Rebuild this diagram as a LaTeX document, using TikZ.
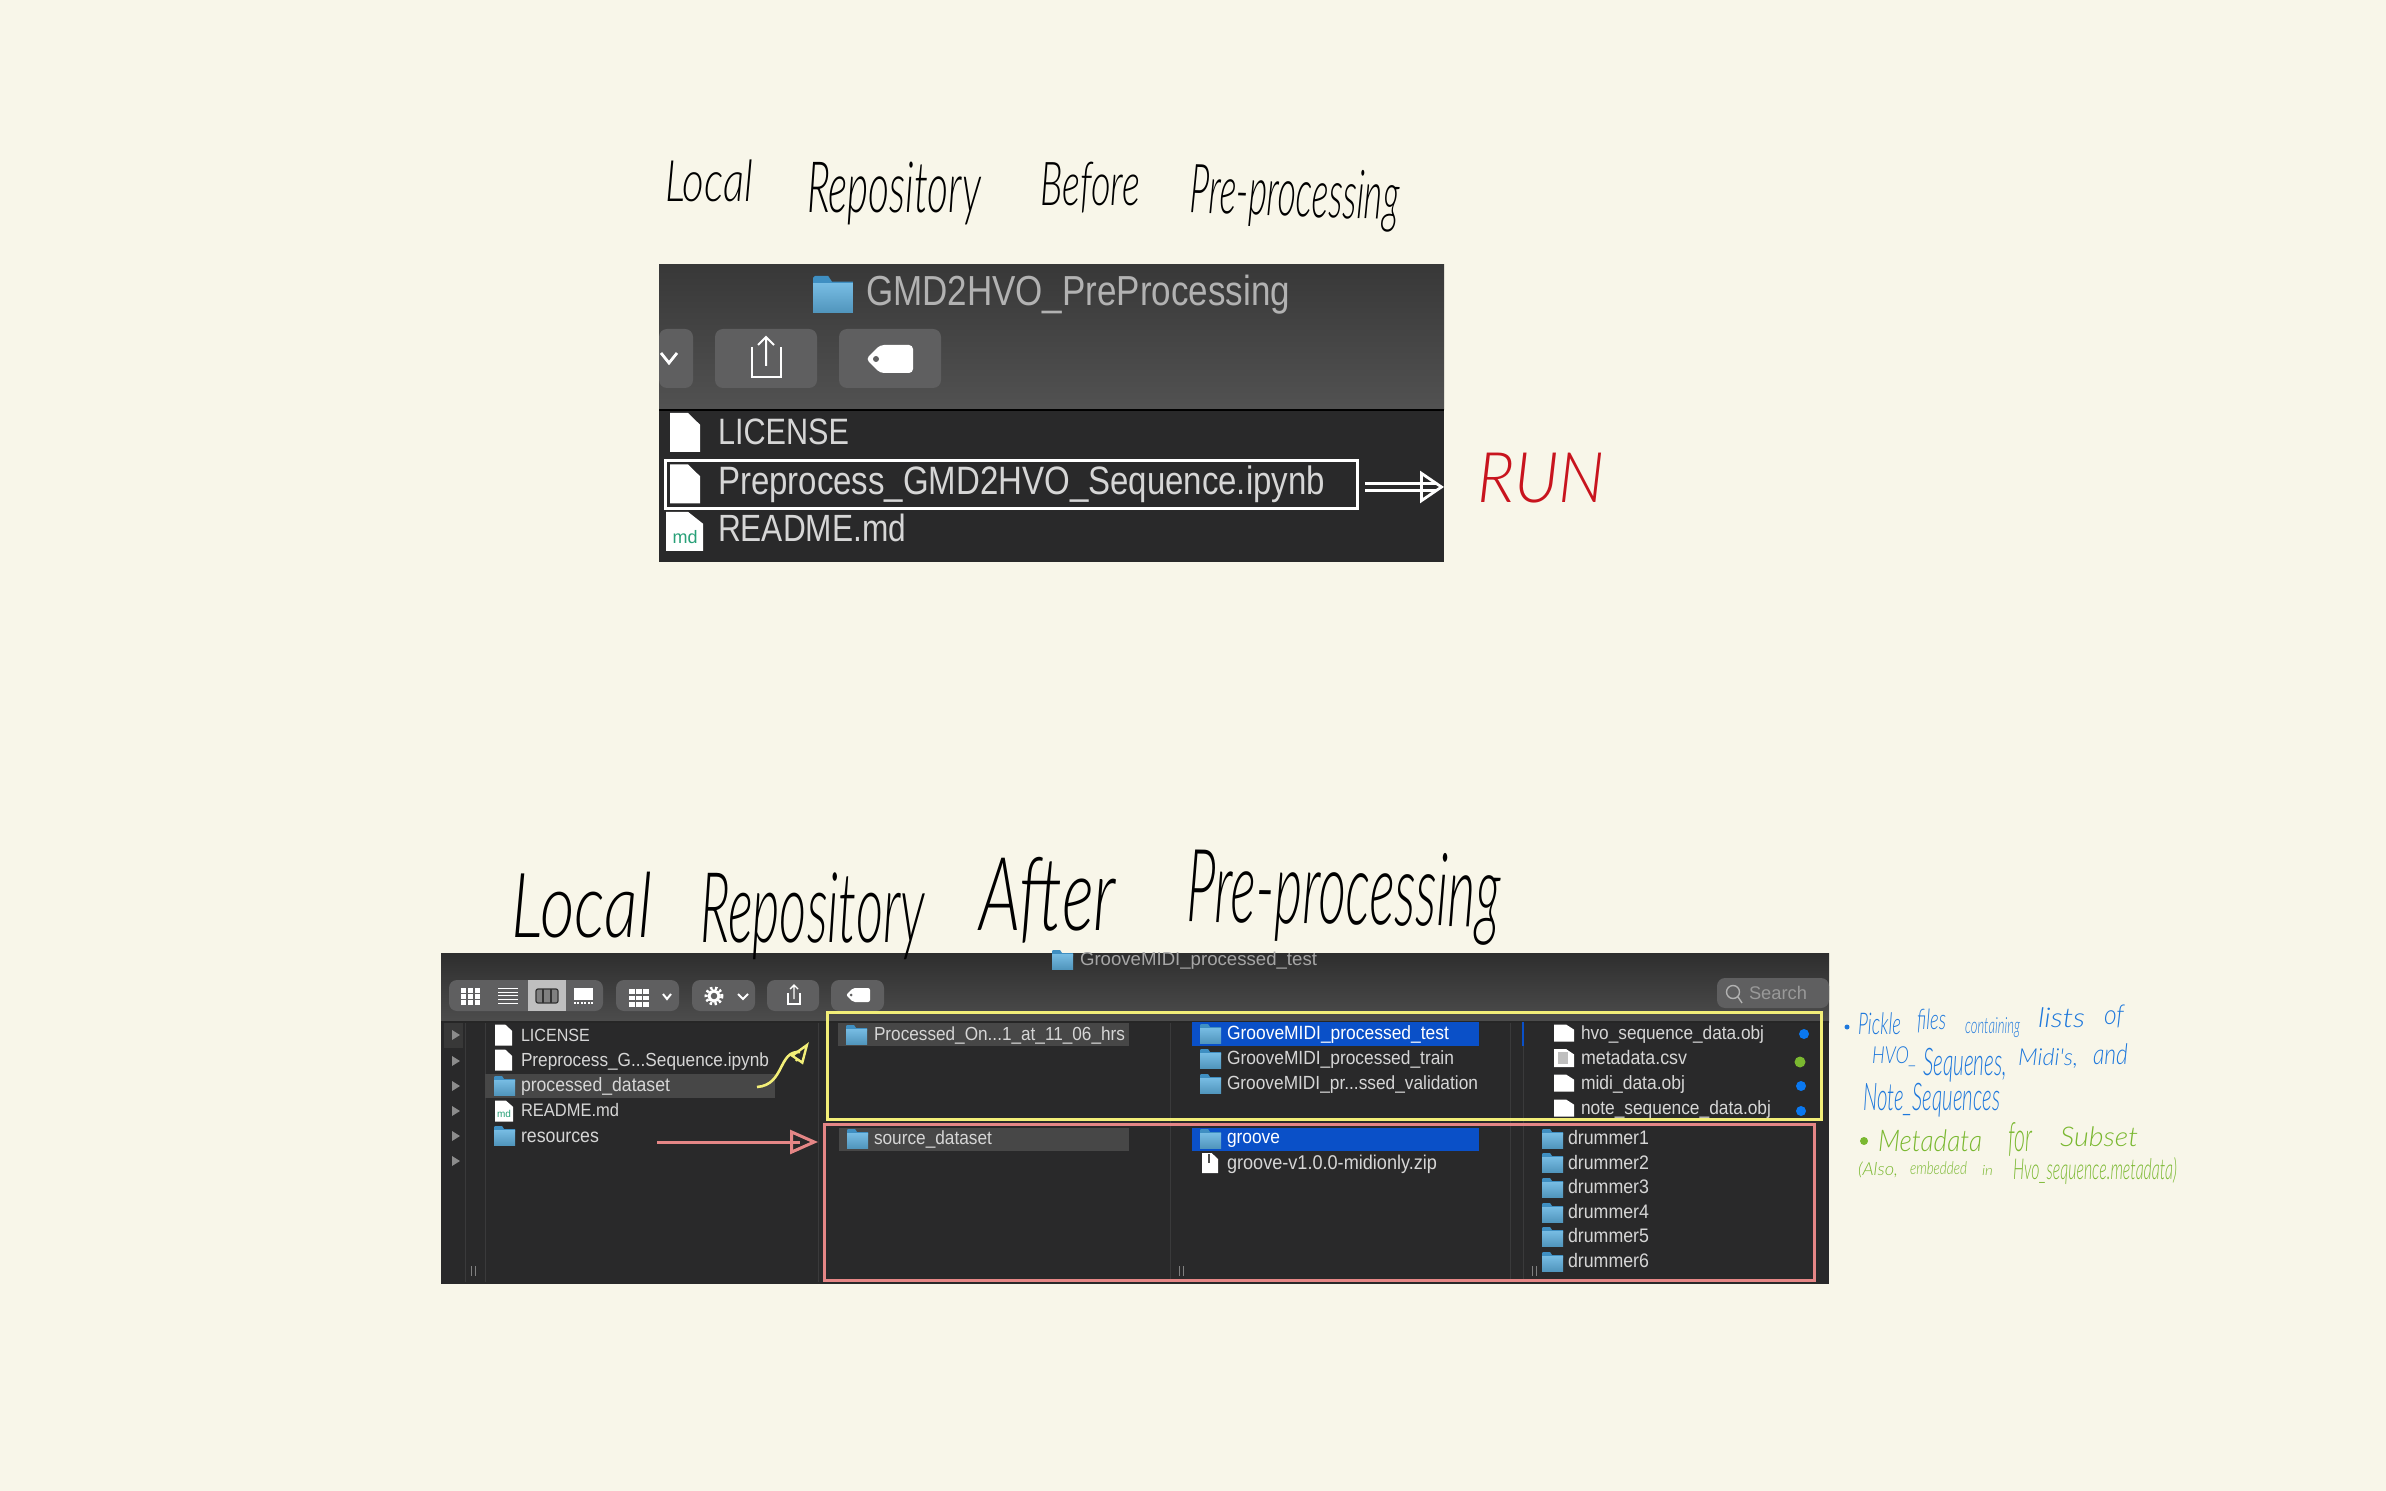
\documentclass[tikz,border=0pt]{standalone}
\usepackage{fontspec}
\usepackage{graphicx}
\usetikzlibrary{arrows.meta}
\setmainfont{Liberation Sans}
\newfontfamily\hand{Lato Light Italic}
\definecolor{bg}{HTML}{F8F6E9}
\definecolor{winbody}{HTML}{29292A}
\definecolor{sep}{HTML}{3A3A3B}
\definecolor{hl}{HTML}{474747}
\definecolor{sel}{HTML}{0A50C8}
\definecolor{txt}{HTML}{D6D6D6}
\definecolor{ybox}{HTML}{F2EE78}
\definecolor{pbox}{HTML}{E58686}
\definecolor{fold}{HTML}{5FB0DE}
\definecolor{foldd}{HTML}{3F8FC2}
\definecolor{btn}{HTML}{5F5F60}
\definecolor{runred}{HTML}{C8141E}
\definecolor{noteblue}{HTML}{1E78DC}
\definecolor{notegreen}{HTML}{7AB830}
\definecolor{dotblue}{HTML}{0A78F0}
\tikzset{
  ftext/.style={anchor=base west,inner sep=0pt,outer sep=0pt,text=txt},
  hwtext/.style={anchor=center,inner sep=0pt,outer sep=0pt},
  btnbox/.style={fill=btn,rounded corners=4pt},
  ink/.style={white,line width=1pt},
  selbox/.style={line width=1.5pt,draw=white},
}
% finder text: name, left x, centre y, width in px, text
\newcommand\ft[5]{\node[ftext] (#1) at (#2,{#3+6}) {\scalebox{1}[1.1]{\resizebox{\dimexpr#4pt/2\relax}{!}{#5}}};}
\newcommand\fb[5]{\node[ftext] (#1) at (#2,{#3+12}) {\scalebox{1}[1.2]{\resizebox{\dimexpr#4pt/2\relax}{!}{#5}}};}
% hand text fitted to a box: [options] name x1 y1 x2 y2 text
\newcommand\hw[7][]{\node[hwtext,#1] (#2) at ({(#3+#5)/2},{(#4+#6)/2}) {\hand\resizebox*{\dimexpr(#5pt-#3pt)/2\relax}{\dimexpr(#6pt-#4pt)/2\relax}{#7}};}
\newcommand\folder[3][1]{\begin{scope}[shift={(#2,#3)},scale=#1]
  \fill[foldd] (0,-6) -- (0,-9) -- (1,-10) -- (8,-10) -- (10,-7) -- (21,-7) -- (21,-4) -- (0,-4) -- cycle;
  \fill[top color=fold!85!white,bottom color=fold!85!black] (0,-6) rectangle (21,9);
\end{scope}}
\newcommand\filei[4]{\begin{scope}[shift={(#1,#2)},xscale=#3,yscale=#4]
  \fill[white] (0,-.5) -- (.6,-.5) -- (1,-.2) -- (1,.5) -- (0,.5) -- cycle;
\end{scope}}
\begin{document}
\begin{tikzpicture}[x=0.5pt,y=-0.5pt]
\fill[bg] (0,0) rectangle (2386,1491);
\useasboundingbox (0,0) rectangle (2386,1491);

%%% TOP WINDOW
\fill[winbody] (659,265) rectangle (1444,562);
\fill[top color=black!78,bottom color=black!68] (659,265) rectangle (1444,410);
\fill[black] (659,409) rectangle (1444,411);
\folder[1.9]{813}{295}
\node[ftext,text=black!30] (toptitle) at (866,306) {\scalebox{1}[1.2]{\resizebox{212pt}{!}{GMD2HVO\_PreProcessing}}};
\fill[btnbox] (659,329) -- (693,329) -- (693,388) -- (659,388) -- cycle;
\draw[ink,line width=1.4pt] (661,353) -- (669,363) -- (677,353);
\fill[btnbox] (715,329) rectangle (817,388);
\draw[ink] (752,347) -- (752,377) -- (781,377) -- (781,347) ;
\fill[btn] (758,340) rectangle (775,352);
\draw[ink] (766,366) -- (766,338) (758,345) -- (766,337) -- (774,345);
\fill[btnbox] (839,329) rectangle (941,388);
\fill[white,rounded corners=2pt] (866,359) -- (880,345) -- (913,345) -- (913,373) -- (880,373) -- cycle;
\fill[btn] (876,359) circle (3);
\filei{670}{432.5}{30}{39}
\fb{toplicense}{718}{433}{131}{LICENSE}
\filei{670}{484}{30}{39}
\fb{topprep}{718}{483}{607}{Preprocess\_GMD2HVO\_Sequence.ipynb}
\filei{666}{531.5}{37}{39}
\node[inner sep=0pt,text={rgb,255:red,40;green,160;blue,120},font=\fontsize{9}{9}\rmfamily] (topmd) at (685,537) {md};
\fb{topreadme}{718}{530}{188}{README.md}
\node[selbox,draw,inner sep=0pt,minimum width=346pt,minimum height=24pt] (topsel) at (1011,485) {};
\coordinate (runa) at (1365,487);
\coordinate (runb) at (1436,487);
\coordinate (runc) at (1420,487);
\coordinate (rund) at (1444,487);
\draw[white,line width=1.4pt,double=winbody,double distance=2pt] (runa) -- (runb);
\draw[white,line width=1.4pt,-{Triangle[open,length=12pt,width=16pt]}] (runc) -- (rund);
\hw[text=runred]{run}{1477}{453}{1605}{503}{RUN}

%%% BOTTOM WINDOW
\fill[winbody] (441,953) rectangle (1829,1284);
\fill[top color=black!82,bottom color=black!70] (441,953) rectangle (1829,1022);
\fill[black!85] (441,1021) rectangle (1829,1023);
\folder{1052}{960}
\node[ftext,text=black!35] (bottitle) at (1080,965) {\resizebox{118.5pt}{!}{GrooveMIDI\_processed\_test}};
% toolbar
\fill[btnbox] (449,980) rectangle (603,1011);
\fill[black!25] (528,980) rectangle (566,1011);
\foreach \a in {0,1,2} \foreach \b in {0,1,2} \fill[white] ({461+\a*7},{988+\b*6}) rectangle +(5,5);
\foreach \b in {0,1,2,3,4} \fill[white] (498,{988+\b*3.7}) rectangle (518,{989+\b*3.7});
\draw[black!80,fill=black!50,line width=.6pt,rounded corners=1pt] (536,989) rectangle (558,1003);
\draw[black!80,line width=.6pt] (543,989) -- (543,1003) (551,989) -- (551,1003);
\fill[white] (574,988) rectangle (593,1000);
\foreach \a in {0,...,5} \fill[white] ({574+\a*3.4},1002) rectangle +(2,2);
\fill[btnbox] (616,980) rectangle (679,1011);
\foreach \b in {0,1,2} \foreach \a in {0,1,2} \fill[white] ({629+\a*7},{991+\b*6.5-2}) rectangle +(5.5,4.5);
\draw[ink] (663,994) -- (667,999) -- (671,994);
\fill[btnbox] (692,980) rectangle (755,1011);
\draw[white,line width=1.5pt,dash pattern=on 1.2pt off 1.2pt] (714,996) circle (8);
\draw[white,line width=1.5pt] (714,996) circle (5);
\draw[ink] (738,994) -- (743,999) -- (748,994);
\fill[btnbox] (767,980) rectangle (819,1011);
\draw[ink,line width=.7pt] (788,993) -- (788,1004) -- (800,1004) -- (800,993);
\draw[ink,line width=.7pt] (794,999) -- (794,985) (790,989) -- (794,985) -- (798,989);
\fill[btnbox] (831,980) rectangle (884,1011);
\fill[white,rounded corners=1pt] (846,995) -- (853,988) -- (870,988) -- (870,1002) -- (853,1002) -- cycle;
\fill[btn] (851,995) circle (1.5);
\fill[btnbox] (1717,978) rectangle (1829,1008);
\draw[black!30,line width=.7pt] (1733,992) circle (6.5) (1738,997) -- (1742,1003);
\node[ftext,text=black!40] (search) at (1749,999) {\resizebox{29pt}{!}{Search}};
% column lines
\foreach \x in {465,485,818,1170,1510,1523} \draw[sep,line width=.5pt] (\x,1023) -- (\x,1282);
\fill[black!78] (444,1023) rectangle (463,1048);
\foreach \y in {1035,1061,1086,1111,1136,1161} \fill[black!45] (452,{\y-5}) -- (460,\y) -- (452,{\y+5}) -- cycle;
\foreach \x in {473,1181,1534} \draw[black!50,line width=.4pt] ({\x-2},1266) -- ({\x-2},1276) ({\x+2},1266) -- ({\x+2},1276);
% sidebar
\fill[hl] (485,1074) rectangle (775,1098);
\filei{495}{1035}{17}{21}
\ft{blicense}{521}{1035}{69}{LICENSE}
\filei{495}{1060}{17}{21}
\ft{bprep}{521}{1060}{248}{Preprocess\_G...Sequence.ipynb}
\folder{494}{1086}
\ft{bproc}{521}{1085}{149}{processed\_dataset}
\filei{495}{1111}{18}{21}
\node[inner sep=0pt,text={rgb,255:red,40;green,160;blue,120},font=\fontsize{5}{5}\rmfamily] (botmd) at (504,1114) {md};
\ft{breadme}{521}{1110}{98}{README.md}
\folder{494}{1136}
\ft{bres}{521}{1136}{78}{resources}
% second column
\fill[hl] (838,1023) rectangle (1129,1046);
\folder{846}{1035}
\ft{bpo}{874}{1034}{251}{Processed\_On...1\_at\_11\_06\_hrs}
\fill[hl] (839,1128) rectangle (1129,1151);
\folder{847}{1139}
\ft{bsd}{874}{1138}{118}{source\_dataset}
% third column
\fill[sel] (1192,1022) rectangle (1479,1046);
\folder{1200}{1034}
\node[ftext,text=white] (bgt) at (1227,1039) {\scalebox{1}[1.1]{\resizebox{111pt}{!}{GrooveMIDI\_processed\_test}}};
\folder{1200}{1059}
\ft{bgtr}{1227}{1058}{227}{GrooveMIDI\_processed\_train}
\folder{1200}{1084}
\ft{bgv}{1227}{1083}{251}{GrooveMIDI\_pr...ssed\_validation}
\draw[sel,line width=.8pt] (1523,1022) -- (1523,1046);
\fill[sel] (1192,1128) rectangle (1479,1151);
\folder{1200}{1139}
\node[ftext,text=white] (bgr) at (1227,1143) {\scalebox{1}[1.1]{\resizebox{26.5pt}{!}{groove}}};
\filei{1202}{1163}{16}{20}
\fill[black!70] (1208,1154) rectangle (1210,1163);
\ft{bzip}{1227}{1163}{210}{groove-v1.0.0-midionly.zip}
% fourth column
\filei{1554}{1033}{20}{17}
\ft{bhvo}{1581}{1033}{183}{hvo\_sequence\_data.obj}
\filei{1554}{1058}{20}{18}
\fill[black!25] (1558,1052) rectangle (1568,1064);
\ft{bmeta}{1581}{1058}{106}{metadata.csv}
\filei{1554}{1083}{20}{17}
\ft{bmidi}{1581}{1083}{104}{midi\_data.obj}
\filei{1554}{1108}{20}{17}
\ft{bnote}{1581}{1108}{190}{note\_sequence\_data.obj}
\fill[dotblue] (1804,1034) circle (5);
\fill[notegreen] (1800,1062) circle (5.5);
\fill[dotblue] (1801,1086) circle (5);
\fill[dotblue] (1801,1111) circle (5);
\folder{1542}{1139}
\ft{bd1}{1568}{1138}{81}{drummer1}
\folder{1542}{1163}
\ft{bd2}{1568}{1163}{81}{drummer2}
\folder{1542}{1188}
\ft{bd3}{1568}{1187}{81}{drummer3}
\folder{1542}{1213}
\ft{bd4}{1568}{1212}{81}{drummer4}
\folder{1542}{1237}
\ft{bd5}{1568}{1236}{81}{drummer5}
\folder{1542}{1262}
\ft{bd6}{1568}{1261}{81}{drummer6}
% highlight boxes
\node[draw=ybox,line width=1.5pt,inner sep=0pt,minimum width=497pt,minimum height=53.5pt] (ybx) at (1324,1065.5) {};
\node[draw=pbox,line width=1.5pt,inner sep=0pt,minimum width=495pt,minimum height=78pt] (pbx) at (1319,1202) {};
% arrows
\coordinate (ya) at (757,1087);
\coordinate (yb) at (800,1052);
\coordinate (yc) at (796,1061);
\coordinate (yd) at (809,1042);
\draw[ybox,line width=1.3pt] (ya) .. controls (785,1085) and (778,1050) .. (yb);
\draw[ybox,line width=1.2pt,-{Triangle[open,length=11pt,width=7.5pt]}] (yc) -- (yd);
\coordinate (pa) at (657,1142);
\coordinate (pb) at (800,1142);
\coordinate (pc) at (790,1142);
\coordinate (pd) at (818,1142);
\draw[pbox,line width=1.5pt] (pa) -- (pb);
\draw[pbox,line width=1.5pt,-{Triangle[open,length=14pt,width=12pt]}] (pc) -- (pd);

%%% HANDWRITING
\hw{t1}{665}{160}{753}{202}{Local}
\hw{t2}{807}{162}{981}{225}{Repository}
\hw{t3}{1040}{162}{1140}{213}{Before}
\hw[rotate=-2]{t4}{1190}{168}{1399}{229}{Pre-processing}
\hw{b1}{512}{872}{652}{938}{Local}
\hw{b2}{700}{873}{925}{960}{Repository}
\hw{b3}{980}{857}{1116}{943}{After}
\hw[rotate=-1]{b4}{1187}{852}{1500}{943}{Pre-processing}
\fill[noteblue] (1847,1027) circle (2.5);
\begin{scope}[every node/.append style={text=noteblue}]
\hw{n1a}{1858}{1013}{1901}{1035}{Pickle}
\hw{n1b}{1917}{1009}{1946}{1033}{files}
\hw{n1c}{1965}{1018}{2020}{1038}{containing}
\hw{n1d}{2038}{1008}{2085}{1028}{lists}
\hw{n1e}{2104}{1005}{2124}{1028}{of}
\hw{n2a}{1872}{1047}{1917}{1067}{HVO\_}
\hw{n2b}{1923}{1048}{2007}{1082}{Sequenes,}
\hw{n2c}{2018}{1048}{2078}{1068}{Midi's,}
\hw{n2d}{2093}{1044}{2128}{1065}{and}
\hw{n3}{1863}{1083}{2000}{1117}{Note\_Sequences}
\end{scope}
\fill[notegreen] (1864,1141) circle (4);
\begin{scope}[every node/.append style={text=notegreen}]
\hw{n4a}{1878}{1130}{1982}{1152}{Metadata}
\hw{n4b}{2008}{1123}{2032}{1157}{for}
\hw{n4c}{2060}{1127}{2138}{1147}{Subset}
\hw{n5a}{1858}{1162}{1898}{1178}{(Also,}
\hw{n5b}{1910}{1162}{1967}{1175}{embedded}
\hw{n5c}{1982}{1165}{1993}{1175}{in}
\hw{n5d}{2013}{1158}{2177}{1185}{Hvo\_sequence.metadata)}
\end{scope}
\end{tikzpicture}
\end{document}
